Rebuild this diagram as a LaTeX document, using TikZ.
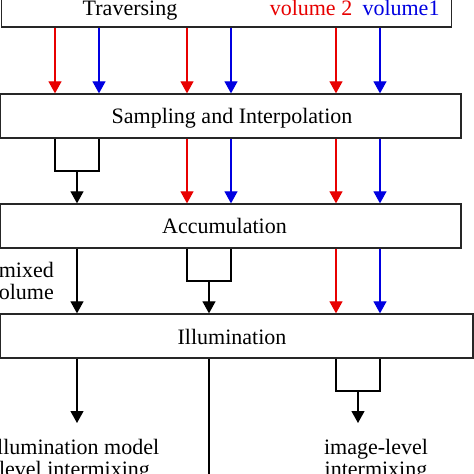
\documentclass[tikz,border=0pt]{standalone}
\usepackage{fontspec}
\setmainfont{Liberation Serif}
\usetikzlibrary{arrows.meta}
\definecolor{vred}{RGB}{232,0,0}
\definecolor{vblue}{RGB}{0,0,225}
\begin{document}
\begin{tikzpicture}[x=1pt,y=-1pt,
  box/.style={draw=black!85,line width=1.3pt,inner sep=0pt,fill=white},
  lbl/.style={inner sep=0pt,font=\fontsize{22}{22}\selectfont},
  tip/.style={-{Triangle[length=12pt,width=13pt]}},
  rarr/.style={tip,draw=vred,fill=vred,line width=1.2pt},
  barr/.style={tip,draw=vblue,fill=vblue,line width=1.2pt},
  karr/.style={tip,draw=black,line width=1.2pt},
  kline/.style={draw=black,line width=1.2pt}]
\useasboundingbox (0,0) rectangle (474,474);
\clip (0,0) rectangle (474,474);
\fill[white] (0,0) rectangle (474,474);
% boxes
\node[box,minimum width=450pt,minimum height=60pt] (trav) at (226.5,-3) {};
\node[box,minimum width=460.5pt,minimum height=44pt] (samp) at (230.75,116) {};
\node[box,minimum width=460.5pt,minimum height=44pt] (acc) at (230.75,226) {};
\node[box,minimum width=472.5pt,minimum height=44pt] (ill) at (236.75,336) {};
% labels in boxes
\node[lbl,anchor=base] (tl) at (130,15) {Traversing};
\node[lbl,anchor=base,text=vred] (v2) at (311,15) {volume 2};
\node[lbl,anchor=base,text=vblue] (v1) at (401,15) {volume1};
\node[lbl,anchor=base] (sl) at (232,123) {Sampling and Interpolation};
\node[lbl,anchor=base] (al) at (224.5,233) {Accumulation};
\node[lbl,anchor=base] (il) at (232,344) {Illumination};
% x positions
\coordinate (xr1) at (55,0);
\coordinate (xb1) at (99,0);
\coordinate (xr2) at (187,0);
\coordinate (xb2) at (231,0);
\coordinate (xr3) at (336,0);
\coordinate (xb3) at (380,0);
\coordinate (m1) at (77,171);
\coordinate (m2) at (209,281);
\coordinate (m3) at (358,391);
\coordinate (bot) at (209,480);
\coordinate (e1) at (77,423);
\coordinate (e3) at (358,423);
% Traversing -> Sampling
\foreach \p/\s in {xr1/rarr,xb1/barr,xr2/rarr,xb2/barr,xr3/rarr,xb3/barr}
  \draw[\s] (trav.south -| \p) -- (samp.north -| \p);
% Sampling -> Accumulation
\draw[kline] (samp.south -| xr1) |- (m1) -| (samp.south -| xb1);
\draw[karr] (m1) -- (acc.north -| m1);
\foreach \p/\s in {xr2/rarr,xb2/barr,xr3/rarr,xb3/barr}
  \draw[\s] (samp.south -| \p) -- (acc.north -| \p);
% Accumulation -> Illumination
\draw[karr] (acc.south -| m1) -- (ill.north -| m1);
\draw[kline] (acc.south -| xr2) |- (m2) -| (acc.south -| xb2);
\draw[karr] (m2) -- (ill.north -| m2);
\foreach \p/\s in {xr3/rarr,xb3/barr}
  \draw[\s] (acc.south -| \p) -- (ill.north -| \p);
% below Illumination
\draw[karr] (ill.south -| m1) -- (e1);
\draw[kline] (ill.south -| m2) -- (bot);
\draw[kline] (ill.south -| xr3) |- (m3) -| (ill.south -| xb3);
\draw[karr] (m3) -- (e3);
% outside labels
\node[lbl,align=right,anchor=north east] (mix) at (54,262) {mixed\\volume};
\node[lbl,align=center,anchor=north] (ilm) at (74.5,439) {Illumination model\\level intermixing};
\node[lbl,align=center,anchor=north] (iml) at (376,439) {image-level\\intermixing};
\end{tikzpicture}
\end{document}
